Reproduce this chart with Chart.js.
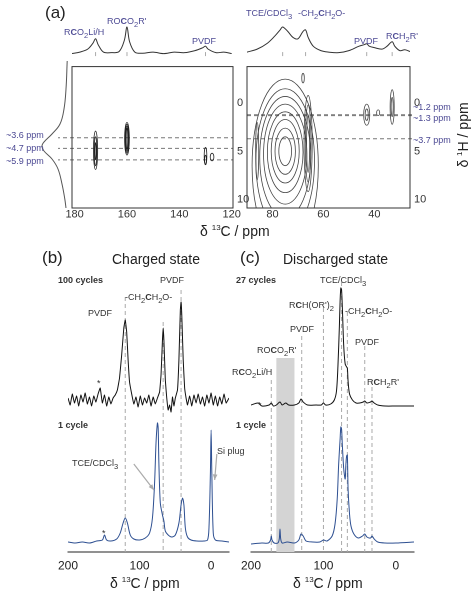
<!DOCTYPE html>
<html><head><meta charset="utf-8">
<script src="https://cdn.jsdelivr.net/npm/chart.js@4"></script>
<style>
body{margin:0;background:#fff;width:474px;height:600px;position:relative;overflow:hidden;font-family:"Liberation Sans",Arial,sans-serif}
canvas{position:absolute}
.t{position:absolute;white-space:nowrap;font-size:9px;color:#333;line-height:1}
.p{color:#4d4a94}
.big{font-size:17px;color:#222}
.ttl{font-size:14px;color:#222}
</style></head><body>
<canvas id="aL"></canvas><canvas id="aR"></canvas><canvas id="pL"></canvas><canvas id="pR"></canvas><canvas id="pV"></canvas><canvas id="cb"></canvas><canvas id="cc"></canvas>
<script>
// ---------- DATA ----------
const aLeftTicks=[180,160,140,120], aRightTicks=[80,60,40], hTicks=[0,5,10], bcTicks=[200,100,0];
const cLc13=[172,172,172,160,160,160,160,130,130,127.5];
const cLh1=[4.9,5.0,5.0,3.7,3.7,3.7,3.7,5.5,5.9,5.6];
const cLrc=[0.8,0.5,0.25,0.9,0.7,0.5,0.3,0.5,0.35,0.7];
const cLrh=[2.0,1.5,0.9,1.7,1.5,1.3,1.1,0.9,0.5,0.4];
const cRc13=[75,75,75,75,75,75,75,75,66,66,66,43,43,33,33,38.5,68,86];
const cRh1=[6.5,6.0,5.6,5.3,5.1,5.0,5.0,5.0,4.2,4.2,4.2,1.2,1.2,0.4,0.4,1.0,-2.6,5];
const cRrc=[13,11.5,10,8.5,7,5.5,4,2.5,1.6,1.1,0.6,1.2,0.6,0.8,0.4,0.6,0.5,0.6];
const cRrh=[9,7.5,6.3,5.2,4.2,3.3,2.4,1.5,5,4,3,1.1,0.6,1.8,1.0,0.3,0.5,3];
const projLppm=[181,178,175,173,172,171,169,166,163,161,160,159,157,154,150,146,142,138,134,131,130,129,126,123,120];
const projLint=[0.05,0.1,0.2,0.4,0.55,0.35,0.1,0.08,0.12,0.5,0.95,0.45,0.1,0.06,0.1,0.05,0.1,0.08,0.15,0.25,0.3,0.2,0.08,0.1,0.05];
const projRppm=[90,86,82,79,77,76,74,72,70,68,67,66,64,61,58,54,50,46,44,43,42,40,37,35,33,32,30,28,26];
const projRint=[0.1,0.2,0.4,0.65,0.85,0.95,0.8,0.6,0.55,0.8,0.85,0.6,0.3,0.15,0.1,0.08,0.15,0.3,0.35,0.38,0.3,0.25,0.2,0.3,0.45,0.3,0.15,0.18,0.12];
const projVh=[-3.8,-1,1,2.5,3.5,4.3,4.7,5.2,6,7,8.5,10,10.9];
const projVint=[0.2,0.5,1,2,4,6,6.5,6,4,2.5,1.5,0.8,0.5];
const aLeftH=[3.6,4.7,5.9], aRightH=[1.2,1.3,3.7];
const aLeftV=[172,160,130], aRightV=[76,67,43,33];
const b100ppm=[200,197,194,191,188,185,182,179,176,173,170,167,164,161,158,155,152,149,146,143,140,137,134,131,128,125,122,120,118,116,114,111,108,105,102,99,96,93,90,87,84,81,78,75,72,70,68,67,66,64,62,60,58,56,54,52,50,47,45,43,42,41,39,37,35,33,30,27,24,21,18,15,12,9,6,3,0,-3,-6,-9,-12,-15,-18,-21,-25];
const b100int=[2,-5,6,-3,4,-6,5,-2,7,-4,3,-6,4,-2,6,12,-3,5,-6,3,-4,2,5,10,22,45,72,80,68,40,18,6,-4,3,-7,4,-5,2,-3,5,-6,3,-4,2,8,25,60,72,60,20,2,-10,-5,-12,3,-6,2,10,40,90,98,85,40,12,2,-5,4,-6,5,-3,6,-4,3,-6,5,-3,7,-5,4,-6,3,-4,6,-3,2];
const b1ppm=[200,190,180,170,160,152,149,146,140,132,127,123,120,117,113,108,100,92,86,82,79,77,75,74,73,71,68,66,64,60,55,50,45,42,40,38,36,33,28,20,10,5,3,1,0,-1,-3,-6,-15,-25];
const b1int=[1,0,1,0,2,3,8,3,2,4,10,20,25,20,8,4,3,5,10,25,60,100,120,115,80,40,28,22,12,8,6,8,20,38,45,38,15,6,3,2,2,3,15,70,113,70,10,3,2,1];
const c27ppm=[200,190,185,175,172,169,165,160,157,152,148,140,134,131,128,122,110,103,100,97,90,85,82,80,78,77,76,75,74,72,70,68,67,66,64,60,55,50,45,43,40,35,33,30,25,15,0,-25];
const c27int=[1,3,0,1,3,0,1,4,1,3,1,1,3,7,4,1,1,1,3,1,2,6,15,40,80,105,118,116,100,60,42,39,38,25,12,6,3,3,4,5,3,4,5,3,1,0,0,0];
const c1ppm=[200,185,176,173,172,171,168,163,161,160,159,157,150,140,134,131,128,124,115,105,100,95,88,84,81,79,77,76,75,74,72,70,69,68,67,66,64,62,58,52,46,43,40,35,33,30,25,15,0,-25];
const c1int=[0,1,1,4,8,4,1,1,5,15,5,1,2,1,4,10,8,3,2,2,4,3,8,20,45,80,105,117,115,100,75,65,80,88,89,55,30,18,10,6,8,10,7,6,8,5,2,1,1,2];
const bLines=[120,67,42], cLines=[172,130,100,75,67,43,33], cBand=[165,140];
const offTop=[152,146], offBottom=[9,8];

const BLUE='#2d4f91';
function pts(x,y,off=0){return x.map((v,i)=>({x:v,y:y[i]+off}));}
function ticksAt(arr){return s=>{s.ticks=arr.map(v=>({value:v}));};}
function mk(id,area,pad,xOpt,yOpt,datasets,plugins,xh,yw){
  const c=document.getElementById(id);
  const W=area.w+pad.l+pad.r+(yw||0), H=area.h+pad.t+pad.b+(xh||0);
  c.width=W;c.height=H;c.style.left=(area.l-pad.l)+'px';c.style.top=(area.t-pad.t)+'px';
  c.style.width=W+'px';c.style.height=H+'px';
  return new Chart(c,{type:'scatter',data:{datasets},plugins:plugins||[],
    options:{responsive:false,animation:false,devicePixelRatio:2,
      layout:{autoPadding:false,padding:{left:pad.l,right:pad.r,top:pad.t,bottom:pad.b}},
      plugins:{legend:{display:false},tooltip:{enabled:false}},
      elements:{point:{radius:0},line:{borderWidth:1,tension:0.3}},
      scales:{x:Object.assign({type:'linear',reverse:true,grid:{display:false}},xOpt),
              y:Object.assign({type:'linear',grid:{display:false}},yOpt)}}});
}
const tickFont={family:'Liberation Sans',size:11};
function frame(){return{id:'frame',afterDraw(ch){const a=ch.chartArea,x=ch.ctx;x.save();x.strokeStyle='#333';x.lineWidth=1;x.strokeRect(a.left,a.top,a.right-a.left,a.bottom-a.top);x.restore();}};}
function contours(c13,h1,rc,rh,col){return{id:'ct',afterDatasetsDraw(ch){const xs=ch.scales.x,ys=ch.scales.y,a=ch.chartArea,x=ch.ctx;x.save();x.beginPath();x.rect(a.left,a.top,a.right-a.left,a.bottom-a.top);x.clip();x.strokeStyle=col;x.lineWidth=0.8;
  c13.forEach((c,i)=>{const cx=xs.getPixelForValue(c),cy=ys.getPixelForValue(h1[i]);const rx=Math.abs(xs.getPixelForValue(c+rc[i])-cx),ry=Math.abs(ys.getPixelForValue(h1[i]+rh[i])-cy);x.beginPath();x.ellipse(cx,cy,rx,ry,0,0,Math.PI*2);x.stroke();});x.restore();}};}
function hdash(vals,ext){return{id:'hd',afterDatasetsDraw(ch){const ys=ch.scales.y,a=ch.chartArea,x=ch.ctx;x.save();x.setLineDash([4,3]);x.strokeStyle='#777';x.lineWidth=1;vals.forEach(v=>{const y=ys.getPixelForValue(v);x.beginPath();x.moveTo(a.left-(ext[0]||0),y);x.lineTo(a.right+(ext[1]||0),y);x.stroke();});x.restore();}};}
function vdash(vals,yTopVal){return{id:'vd',beforeDatasetsDraw(ch){const xs=ch.scales.x,ys=ch.scales.y,a=ch.chartArea,x=ch.ctx;x.save();x.setLineDash([4,3]);x.strokeStyle='#aaa';x.lineWidth=1;vals.forEach((v,i)=>{const px=xs.getPixelForValue(v);const top=ys.getPixelForValue(Array.isArray(yTopVal)?yTopVal[i]:yTopVal);x.beginPath();x.moveTo(px,top);x.lineTo(px,a.bottom);x.stroke();});x.restore();}};}

const hY={min:-3.8,max:10.9,reverse:true,position:'right',afterBuildTicks:ticksAt(hTicks),afterFit:s=>{s.width=16},ticks:{font:tickFont,color:'#333',padding:1},border:{display:false},grid:{display:false,drawTicks:true,tickLength:3}};
const xB=t=>({afterBuildTicks:ticksAt(t),afterFit:s=>{s.height=16},ticks:{font:tickFont,color:'#333',padding:0},border:{display:false},grid:{display:false,drawTicks:false}});
mk('aL',{l:72,t:61,w:161,h:147},{l:14,r:2,t:2,b:2},Object.assign({min:119.5,max:181},xB(aLeftTicks)),hY,[],
  [frame(),hdash(aLeftH,[30,0]),contours(cLc13,cLh1,cLrc,cLrh,'#222')],16,16);
mk('aR',{l:247,t:61,w:163,h:147},{l:2,r:2,t:2,b:2},Object.assign({min:26,max:90},xB(aRightTicks)),hY,[],
  [frame(),hdash(aRightH,[0,4]),contours(cRc13,cRh1,cRrc,cRrh,'#444')],16,16);
mk('pL',{l:72,t:24,w:161,h:34},{l:0,r:0,t:0,b:0},{min:119.5,max:181,display:false},{min:-0.1,max:1.05,display:false},
  [{data:pts(projLppm,projLint),showLine:true,borderColor:'#333',tension:0.35}],[vdash(aLeftV,0.1)]);
mk('pR',{l:247,t:24,w:163,h:34},{l:0,r:0,t:0,b:0},{min:26,max:90,display:false},{min:-0.1,max:1.05,display:false},
  [{data:pts(projRppm,projRint),showLine:true,borderColor:'#333',tension:0.35}],[vdash(aRightV,0.1)]);
mk('pV',{l:40,t:61,w:28,h:147},{l:0,r:0,t:0,b:0},{min:0,max:7,display:false},{min:-3.8,max:10.9,reverse:true,display:false},
  [{data:projVh.map((h,i)=>({x:projVint[i],y:h})),showLine:true,borderColor:'#555',tension:0.4}],[]);

const xBC={min:-25,max:200,afterBuildTicks:ticksAt(bcTicks),afterFit:s=>{s.height=22},ticks:{font:{family:'Liberation Sans',size:12},color:'#222',padding:3},border:{display:true,color:'#222'},grid:{display:false,drawTicks:true,tickLength:4,color:'#222'}};
const yBC={min:0,max:270,display:false};
const arrows={id:'ar',afterDatasetsDraw(ch){const xs=ch.scales.x,ys=ch.scales.y,x=ch.ctx;x.save();x.strokeStyle='#aaa';x.fillStyle='#aaa';x.lineWidth=1.2;
  [[108,88,80,62],[-8,98,-5,72]].forEach(([a,b,c,d])=>{const x1=xs.getPixelForValue(a),y1=ys.getPixelForValue(b),x2=xs.getPixelForValue(c),y2=ys.getPixelForValue(d);x.beginPath();x.moveTo(x1,y1);x.lineTo(x2,y2);x.stroke();const an=Math.atan2(y2-y1,x2-x1);x.beginPath();x.moveTo(x2,y2);x.lineTo(x2-6*Math.cos(an-0.4),y2-6*Math.sin(an-0.4));x.lineTo(x2-6*Math.cos(an+0.4),y2-6*Math.sin(an+0.4));x.fill();});x.restore();}};
mk('cb',{l:67,t:282,w:162,h:270},{l:12,r:10,t:0,b:4},xBC,yBC,
  [{data:pts(b100ppm,b100int,offTop[0]),showLine:true,borderColor:'#111',tension:0.1},
   {data:pts(b1ppm,b1int,offBottom[0]),showLine:true,borderColor:BLUE,tension:0.3}],
  [vdash(bLines,[255,230,262]),arrows],22);
const band={id:'band',beforeDatasetsDraw(ch){const xs=ch.scales.x,ys=ch.scales.y,a=ch.chartArea,x=ch.ctx;x.save();x.fillStyle='#d4d4d4';const l=xs.getPixelForValue(cBand[0]),r=xs.getPixelForValue(cBand[1]);x.fillRect(l,ys.getPixelForValue(194),r-l,a.bottom-ys.getPixelForValue(194));x.restore();}};
mk('cc',{l:250,t:282,w:164,h:270},{l:12,r:10,t:0,b:4},xBC,yBC,
  [{data:pts(c27ppm,c27int,offTop[1]),showLine:true,borderColor:'#111',tension:0.3},
   {data:pts(c1ppm,c1int,offBottom[1]),showLine:true,borderColor:BLUE,tension:0.3}],
  [band,vdash(cLines,[172,216,244,270,240,206,172])],22);
</script>
<div class="t big" style="left:45px;top:4px">(a)</div>
<div class="t p" style="left:64px;top:28px">R<b>C</b>O<sub>2</sub>Li/H</div>
<div class="t p" style="left:107px;top:17px">RO<b>C</b>O<sub>2</sub>R'</div>
<div class="t p" style="left:192px;top:37px">PVDF</div>
<div class="t p" style="left:246px;top:9px">TCE/CDCl<sub>3</sub></div>
<div class="t p" style="left:298px;top:9px">-CH<sub>2</sub><b>C</b>H<sub>2</sub>O-</div>
<div class="t p" style="left:354px;top:37px">PVDF</div>
<div class="t p" style="left:386px;top:32px">R<b>C</b>H<sub>2</sub>R'</div>
<div class="t p" style="left:6px;top:131px">~3.6 ppm</div>
<div class="t p" style="left:6px;top:144px">~4.7 ppm</div>
<div class="t p" style="left:6px;top:157px">~5.9 ppm</div>
<div class="t p" style="left:413px;top:103px">~1.2 ppm</div>
<div class="t p" style="left:413px;top:114px">~1.3 ppm</div>
<div class="t p" style="left:413px;top:136px">~3.7 ppm</div>
<div class="t ttl" style="left:200px;top:224px">δ <sup style="font-size:8px">13</sup>C / ppm</div>
<div class="t ttl" style="left:430px;top:128px;transform:rotate(-90deg);transform-origin:center">δ <sup style="font-size:8px">1</sup>H / ppm</div>
<div class="t big" style="left:42px;top:249px">(b)</div>
<div class="t ttl" style="left:112px;top:252px">Charged state</div>
<div class="t big" style="left:240px;top:249px">(c)</div>
<div class="t ttl" style="left:283px;top:252px">Discharged state</div>
<div class="t" style="left:58px;top:276px;font-weight:bold">100 cycles</div>
<div class="t" style="left:160px;top:276px">PVDF</div>
<div class="t" style="left:125px;top:293px">-CH<sub>2</sub><b>C</b>H<sub>2</sub>O-</div>
<div class="t" style="left:88px;top:309px">PVDF</div>
<div class="t" style="left:97px;top:379px">*</div>
<div class="t" style="left:58px;top:421px;font-weight:bold">1 cycle</div>
<div class="t" style="left:72px;top:459px">TCE/CDCl<sub>3</sub></div>
<div class="t" style="left:217px;top:447px">Si plug</div>
<div class="t" style="left:102px;top:529px">*</div>
<div class="t" style="left:236px;top:276px;font-weight:bold">27 cycles</div>
<div class="t" style="left:320px;top:276px">TCE/CDCl<sub>3</sub></div>
<div class="t" style="left:289px;top:301px">R<b>C</b>H(OR')<sub>2</sub></div>
<div class="t" style="left:345px;top:307px">-CH<sub>2</sub><b>C</b>H<sub>2</sub>O-</div>
<div class="t" style="left:290px;top:325px">PVDF</div>
<div class="t" style="left:355px;top:338px">PVDF</div>
<div class="t" style="left:257px;top:346px">RO<b>C</b>O<sub>2</sub>R'</div>
<div class="t" style="left:232px;top:368px">R<b>C</b>O<sub>2</sub>Li/H</div>
<div class="t" style="left:367px;top:378px">R<b>C</b>H<sub>2</sub>R'</div>
<div class="t" style="left:258px;top:401px">*</div>
<div class="t" style="left:236px;top:421px;font-weight:bold">1 cycle</div>
<div class="t ttl" style="left:110px;top:576px">δ <sup style="font-size:8px">13</sup>C / ppm</div>
<div class="t ttl" style="left:293px;top:576px">δ <sup style="font-size:8px">13</sup>C / ppm</div>
</body></html>
